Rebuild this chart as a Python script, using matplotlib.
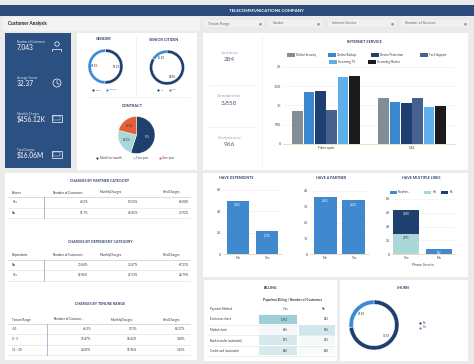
import numpy as np
import matplotlib.pyplot as plt
from matplotlib.patches import Rectangle, Circle
from matplotlib.ticker import FuncFormatter

plt.rcParams['font.family'] = ['Lato', 'DejaVu Sans']

W, H = 474, 364

# ---- data ----
kpi_labels = ['Number of Customers', 'Average Tenure', 'Monthly Charges', 'Total Charges']
kpi_values = ['7,043', '32.37', '$456.12K', '$16.06M']

service_labels = ['Use all services', 'Use multiple services', 'Use only one service']
service_values = ['284', '3,858', '966']

gender_labels = ['Male', 'Female']
gender_share = [50.5, 49.5]
senior_labels = ['No', 'Yes']
senior_share = [83.8, 16.2]
contract_labels = ['Month-to-month', 'Two year', 'One year']
contract_share = [55.0, 24.1, 20.9]

internet_types = ['Fiber optic', 'DSL']
internet_services = ['Online Security', 'Online Backup', 'Device Protection',
                     'Tech Support', 'Streaming TV', 'Streaming Movies']
internet_counts = [[845, 1190],
                   [1345, 1103],
                   [1371, 1069],
                   [879, 1190],
                   [1750, 957],
                   [1767, 991]]

yes_no = ['No', 'Yes']
dependents_counts = [4933, 2110]
partner_counts = [3641, 3402]

phone_service = ['Yes', 'No']
lines_labels = ['No phon...', 'Yes', 'No']
lines_no_phone = [0, 682]
lines_yes = [2971, 0]
lines_no = [3390, 0]

table_cols = ['Number of Customers', 'MonthlyCharges', 'TotalCharges']
partner_rows = ['Yes', 'No']
partner_customers = ['48.3%', '51.7%']
partner_monthly = ['50.55%', '49.45%']
partner_total = ['64.08%', '35.92%']

dependent_rows = ['No', 'Yes']
dependent_customers = ['70.04%', '29.96%']
dependent_monthly = ['72.47%', '27.53%']
dependent_total = ['67.21%', '32.79%']

tenure_cols = ['Number of Custome...', 'MonthlyCharges', 'TotalCharges']
tenure_rows = ['>30', '0 - 5', '11 - 20']
tenure_customers = ['46.3%', '19.47%', '12.89%']
tenure_monthly = ['53.3%', '16.42%', '11.96%']
tenure_total = ['84.27%', '3.08%', '5.15%']

pay_methods = ['Electronic check', 'Mailed check', 'Bank transfer (automatic)',
               'Credit card (automatic)']
paperless_yes = [1742, 656, 891, 882]
paperless_no = [623, 956, 653, 640]

churn_labels = ['No', 'Yes']
churn_share = [73.5, 26.5]

# ---- colours ----
navy = '#1f3f6e'
blue = '#3a8bd6'
barblue = '#4189cf'
teal = '#aad7da'
orange = '#e4603b'
title_c = '#2d3f6b'
txt = '#444444'
internet_colors = ['#828e97', '#3a87cf', '#1e3f6f', '#46618d', '#5eb0ea', '#1b1b1b']

fig = plt.figure(figsize=(W / 100, H / 100), dpi=100)
fig.patch.set_facecolor('#ebebeb')

bg = fig.add_axes([0, 0, 1, 1])
bg.set_xlim(0, W)
bg.set_ylim(H, 0)
bg.axis('off')


def add_ax(x, y, w, h):
    return fig.add_axes([x / W, 1 - (y + h) / H, w / W, h / H])


def panel(x, y, w, h, c='white'):
    bg.add_patch(Rectangle((x, y), w, h, fc=c, ec='none'))


def t(x, y, s, size=2.6, color=txt, ha='left', weight='normal'):
    bg.text(x, y, s, fontsize=size, color=color, ha=ha, va='center', fontweight=weight)


def hline(x0, x1, y, c='#d8d8d8', lw=0.4):
    bg.plot([x0, x1], [y, y], color=c, lw=lw)


def vline(x, y0, y1, c='#d8d8d8', lw=0.4):
    bg.plot([x, x], [y0, y1], color=c, lw=lw)


# header + filters
panel(0, 5, W, 11, '#2a4b7c')
t(266, 10.5, 'TELECOMMUNICATIONS COMPANY', 3.2, 'white', 'center', 'bold')
panel(3, 17, 197, 14, '#f3f3f3')
t(8, 24, 'Customer Analysis', 3.4, '#222222', weight='bold')
for x0, x1, name in [(203, 265, 'Tenure Range'), (268, 323, 'Gender'),
                     (327, 397, 'Internet Service'), (400, 470, 'Number of Services')]:
    bg.add_patch(Rectangle((x0, 19), x1 - x0, 9, fc='#f0f0f0', ec='#dddddd', lw=0.3))
    t(x0 + 5, 23.5, name, 2.5, '#666666')
    bg.plot(x1 - 5, 23.5, marker='v', ms=1.0, color='#888888')

# ---- KPI panel ----
panel(5, 33, 66, 135, '#2d5083')
kpi_y = [44, 80, 116, 152]
for yy, lab, val in zip(kpi_y, kpi_labels, kpi_values):
    t(17, yy - 2, lab, 2.1, '#dfe6f0')
    t(17, yy + 3.5, val, 4.8, 'white')
# icons
bg.add_patch(Circle((57, 44), 2.2, fc='none', ec='white', lw=0.5))
bg.plot([52.5, 52.5, 61.5, 61.5], [51, 48.5, 48.5, 51], color='white', lw=0.5)
bg.add_patch(Circle((57, 83), 4, fc='none', ec='white', lw=0.5))
bg.plot([57, 57, 59], [80.5, 83, 84.5], color='white', lw=0.5)
for yy in [118, 154]:
    bg.add_patch(Rectangle((52, yy - 3.5), 10, 7, fc='none', ec='white', lw=0.5))
    bg.add_patch(Rectangle((53.5, yy - 2), 7, 4, fc='none', ec='white', lw=0.3))

# ---- donut/pie panel ----
panel(77, 33, 120, 137)
vline(136, 36, 95, '#eeeeee', 0.5)
hline(86, 190, 97, '#eeeeee', 0.5)
t(104, 39, 'GENDER', 2.8, title_c, 'center', 'bold')
t(164, 40, 'SENIOR CITIZEN', 2.8, title_c, 'center', 'bold')
t(132, 106, 'CONTRACT', 2.8, title_c, 'center', 'bold')


def donut(cx, cy, r, vals, colors, width, pctd=0.62, tcol=None, fmt='%.1f%%', fs=1.9):
    ax = add_ax(cx - r, cy - r, 2 * r, 2 * r)
    wp = dict(edgecolor='white', linewidth=0.3)
    if width:
        wp['width'] = width
    _, _, autot = ax.pie(vals, colors=colors, startangle=90, counterclock=False,
                         wedgeprops=wp, autopct=fmt, pctdistance=pctd,
                         textprops=dict(fontsize=fs, color='#333333'))
    if tcol:
        for a, c in zip(autot, tcol):
            a.set_color(c)
    ax.set_xlim(-1, 1)
    ax.set_ylim(-1, 1)
    return ax


donut(105.5, 66.5, 17.5, gender_share, [navy, blue], 0.18)
donut(167, 67.5, 17.5, senior_share, [navy, blue], 0.18)
donut(136.5, 135, 18.5, contract_share, [navy, teal, orange], None, 0.6,
      ['#c8d3e3', '#333333', '#333333'], lambda p: f'{p:.3g}%', 1.9)


def dot_legend(items, y, fs=2.0):
    for x, lab, c in items:
        bg.plot(x, y, 'o', ms=1.6, color=c, mec='none')
        t(x + 2.5, y, lab, fs, '#444444')


dot_legend([(93, gender_labels[0], navy), (107, gender_labels[1], blue)], 90, 1.6)
dot_legend([(158, senior_labels[0], navy), (170, senior_labels[1], blue)], 90, 1.6)
dot_legend([(97, contract_labels[0], navy), (134, contract_labels[1], teal),
            (160, contract_labels[2], orange)], 158, 2.2)

# ---- services KPI + internet service ----
panel(203, 33, 265, 137)
vline(262, 36, 167, '#eeeeee', 0.5)
hline(208, 257, 85, '#eeeeee', 0.5)
hline(208, 257, 127, '#eeeeee', 0.5)
for yy, lab, val in zip([53, 96, 138], service_labels, service_values):
    t(229, yy, lab, 1.8, '#8a94a8', 'center')
    t(229, yy + 6.5, val, 4.6, '#4a5a7a', 'center')

t(364, 42, 'INTERNET SERVICE', 2.8, title_c, 'center', 'bold')
leg_pos = [(287, 55), (328, 55), (371, 55), (420, 55), (329, 62), (368, 62)]
for (lx, ly), lab, c in zip(leg_pos, internet_services, internet_colors):
    bg.add_patch(Rectangle((lx, ly - 1.6), 8, 3.2, fc=c, ec='none'))
    t(lx + 9.5, ly, lab, 2.1, '#333333')


def style_bar_ax(ax, ymax, step):
    ax.set_ylim(0, ymax)
    ax.set_yticks(np.arange(0, ymax + 1, step))
    ax.yaxis.set_major_formatter(FuncFormatter(
        lambda v, p: str(int(v)) if v < 1000 else f'{v / 1000:g}K'))
    for s in ['top', 'right', 'left']:
        ax.spines[s].set_visible(False)
    ax.spines['bottom'].set_color('#e6cfa8')
    ax.spines['bottom'].set_linewidth(0.5)
    ax.tick_params(length=0, labelsize=2.5, colors='#444444', pad=1.5)
    ax.grid(axis='y', color='#eeeeee', lw=0.4)
    ax.set_axisbelow(True)
    ax.patch.set_alpha(0)


ax = add_ax(283, 67, 172, 77)
xpos = np.arange(len(internet_types))
step = 0.132
for i, (vals, c) in enumerate(zip(internet_counts, internet_colors)):
    ax.bar(xpos + (i - 2.5) * step, vals, width=0.122, color=c)
ax.set_xlim(-0.5, 1.5)
ax.set_xticks(xpos)
ax.set_xticklabels(internet_types)
style_bar_ax(ax, 2000, 500)

# ---- tables ----
panel(5, 173, 192, 187)


def draw_table(title, ty, hy, row_h, rowname, rows, c1, c2, c3, cols, hx, vx, vsep):
    t(100, ty, title, 2.6, title_c, 'center', 'bold')
    t(12, hy, rowname, 2.2, '#333333')
    for x, c in zip(hx, cols):
        t(x, hy, c, 2.2, '#333333', 'center')
    hline(8, 190, hy + 4.5, '#cccccc', 0.5)
    for j, r in enumerate(rows):
        yy = hy + 4.5 + row_h * (j + 0.5)
        t(12, yy, r, 2.2, '#333333')
        for x, v in zip(vx, [c1[j], c2[j], c3[j]]):
            t(x, yy, v, 2.2, '#333333', 'right')
        hline(8, 190, hy + 4.5 + row_h * (j + 1), '#dddddd', 0.4)
    vline(vsep, hy + 4.5, hy + 4.5 + row_h * len(rows), '#8fa0bf', 0.5)


draw_table('CHARGES BY PARTNER CATEGORY', 181, 192.5, 10.5, 'Partner', partner_rows,
           partner_customers, partner_monthly, partner_total, table_cols,
           [68, 111, 172], [88, 138, 189], 44)
draw_table('CHARGES BY DEPENDENT CATEGORY', 242, 255, 10.5, 'Dependents', dependent_rows,
           dependent_customers, dependent_monthly, dependent_total, table_cols,
           [68, 111, 172], [88, 138, 189], 44)
draw_table('CHARGES BY TENURE RANGE', 304, 319.5, 10.3, 'Tenure Range', tenure_rows,
           tenure_customers, tenure_monthly, tenure_total, tenure_cols,
           [69, 122, 172], [91, 137, 185], 47)

# ---- small bar charts ----
panel(203, 173, 265, 104)
t(236, 178, 'HAVE DEPENDENTS', 2.6, title_c, 'center', 'bold')
t(331, 178, 'HAVE A PARTNER', 2.6, title_c, 'center', 'bold')
t(421, 178, 'HAVE MULTIPLE LINES', 2.6, title_c, 'center', 'bold')

fmt_k = lambda v: f'{v:,.0f}' if v > 0 else ''

ax = add_ax(223, 190, 59, 64)
b = ax.bar(yes_no, dependents_counts, width=0.75, color=barblue)
ax.bar_label(b, labels=[fmt_k(v) for v in dependents_counts], padding=-4, fontsize=1.9, color='white')
ax.set_xlim(-0.5, 1.5)
style_bar_ax(ax, 6000, 2000)

ax = add_ax(310, 191, 59, 63)
b = ax.bar(yes_no, partner_counts, width=0.8, color=barblue)
ax.bar_label(b, labels=[fmt_k(v) for v in partner_counts], padding=-4, fontsize=1.9, color='white')
ax.set_xlim(-0.55, 1.55)
style_bar_ax(ax, 4000, 1000)

ax = add_ax(392, 199, 63, 55)
bottom = np.zeros(2)
for vals, c in zip([lines_no_phone, lines_yes, lines_no], [barblue, teal, navy]):
    b = ax.bar(phone_service, vals, bottom=bottom, width=0.8, color=c)
    ax.bar_label(b, labels=[fmt_k(v) for v in vals], padding=-4, fontsize=1.9,
                 color='#333333' if c == teal else 'white')
    bottom += np.array(vals)
ax.set_xlim(-0.42, 1.48)
style_bar_ax(ax, 8000, 2000)
ax.set_xlabel('Phone Service', fontsize=2.5, color='#444444', labelpad=2)
for lx, lab, c in zip([390, 424, 441], lines_labels, [barblue, teal, navy]):
    bg.add_patch(Rectangle((lx, 190.5), 7, 3, fc=c, ec='none'))
    t(lx + 8.5, 192, lab, 1.9, '#333333')

# ---- billing ----
panel(204, 280, 133, 81)
t(271, 288, 'BILLING', 2.6, title_c, 'center', 'bold')
t(293, 300, 'Paperless Billing / Number of Customers', 2.3, '#333333', 'center', 'bold')
t(210, 309, 'Payment Method', 2.1, '#333333')
t(285, 309, 'Yes', 2.1, '#333333', 'center')
t(324, 309, 'No', 2.1, '#333333', 'center')
allv = np.array(paperless_yes + paperless_no)
lo, hi = allv.min(), allv.max()
c_hi = np.array([0.62, 0.81, 0.84])
for j, m in enumerate(pay_methods):
    y0 = 314.5 + j * 10.4
    t(210, y0 + 5, m, 2.1, '#333333')
    for (x0, x1, rx), v in zip([(259, 297, 288), (299, 335, 329)], [paperless_yes[j], paperless_no[j]]):
        f = ((v - lo) / (hi - lo)) ** 0.6
        col = (1 - f) * np.array([1, 1, 1]) + f * c_hi
        bg.add_patch(Rectangle((x0, y0), x1 - x0, 9.6, fc=col, ec='none'))
        t(rx, y0 + 5, f'{v:,}', 2.1, '#333333', 'right')
    hline(207, 336, y0 + 10.2, '#e4e4e4', 0.4)

# ---- churn ----
panel(340, 280, 128, 81)
t(403, 288, 'CHURN', 2.6, title_c, 'center', 'bold')
donut(374, 325, 25, churn_share, [navy, blue], 0.17, 0.68, None, '%.1f%%', 1.9)
for yy, lab, c in zip([322.5, 327.5], churn_labels, [navy, blue]):
    dot_legend([(420, lab, c)], yy, 1.8)

fig.savefig('out.png', dpi=100, facecolor=fig.get_facecolor())
